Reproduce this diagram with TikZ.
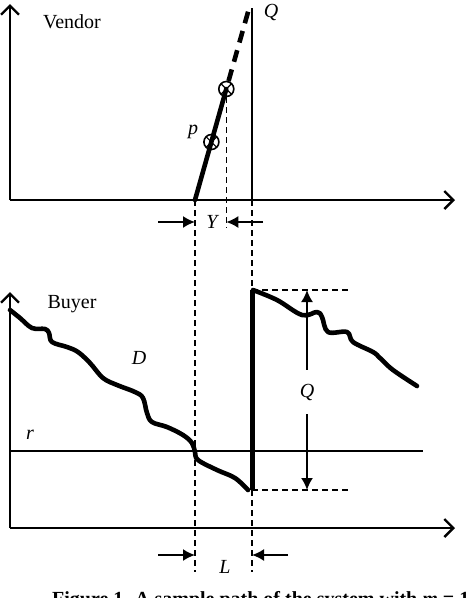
\documentclass[tikz,border=0pt]{standalone}
\usepackage{fontspec}
\setmainfont{Liberation Serif}
\usepackage{tikz}
\usetikzlibrary{arrows.meta}
\tikzstyle{every node}+=[inner sep=0pt]
\tikzstyle{axis} = [draw, line width=2.4pt, -{Straight Barb[length=9pt,width=18pt]}]
\tikzstyle{guide} = [draw, line width=1.6pt, dash pattern=on 6pt off 4pt]
\tikzstyle{dim} = [draw, line width=1.8pt, -{Latex[length=12pt,width=12pt]}]
\tikzstyle{sample} = [draw, line width=4.6pt, line join=round, line cap=round]
\tikzstyle{tag} = [font=\fontsize{20}{24}\selectfont\itshape]
\tikzstyle{title} = [font=\fontsize{20}{24}\selectfont]
\tikzstyle{xmark} = [circle, draw, line width=1.6pt, minimum size=15pt,
  path picture={\draw[line width=1.2pt] (path picture bounding box.north west) -- (path picture bounding box.south east)
    (path picture bounding box.north east) -- (path picture bounding box.south west);}]

\begin{document}
\begin{tikzpicture}[x=1pt, y=-1pt]
            \useasboundingbox (0,0) rectangle (474,598);
            % Vendor axes
            \coordinate (vo) at (10,200);
            \coordinate (vy) at (10,4);
            \coordinate (vx) at (455,200);
            \coordinate (vq0) at (252,200);
            \coordinate (vqt) at (252,8);
            \coordinate (v0) at (195,200);
            \coordinate (vtop) at (250,5);
            \path [axis] (vo) -- (vy);
            \path [axis] (vo) -- (vx);
            \draw [line width=1.8pt] (vq0) -- (vqt);
            % Place nodes
            \node [title] (vendor) at (72,22) {Vendor};
            \node [tag] (qv) at (271,12) {Q};
            \node [xmark] (c1) at (211.4,142) {};
            \node [xmark] (c2) at (226.3,89) {};
            \node [tag] (p) at (193,132) {p};
            \node [tag] (y) at (212,222) {Y};
            \node [title] (buyer) at (72,304) {Buyer};
            \node [tag] (d) at (139,358) {D};
            \node [tag] (r) at (30,435) {r};
            \node [tag, minimum height=44pt] (qb) at (307,392) {Q};
            \node [tag] (l) at (225,567) {L};
            % Vendor path
            \path [sample] (v0) -- (c2.center);
            \path [sample, line cap=butt, dash pattern=on 12pt off 8pt] (c2) -- (vtop);
            % Buyer axes
            \coordinate (bo) at (10,528);
            \coordinate (by) at (10,292);
            \coordinate (bx) at (455,528);
            \path [axis] (bo) -- (by);
            \path [axis] (bo) -- (bx);
            \draw [line width=1.5pt] (10,451) -- (423,451);
            % Inventory path
            \path [sample] plot [smooth, tension=0.6] coordinates {(10,310) (20,318) (32,328) (45,329) (49,333)
              (52,342) (67,347) (78,352) (90,363) (103,378) (117,385) (135,392) (143,398) (147,413)
              (152,422) (167,427) (183,435) (192,443) (195,452) (198,460) (217,470) (235,478) (248,490)};
            \coordinate (bl) at (252,490);
            \coordinate (bh) at (252,290);
            \path [sample, line width=5pt, line cap=butt] (bl) -- (bh);
            \path [sample] plot [smooth, tension=0.6] coordinates {(253,290) (277,300) (302,315) (317,312)
              (322,317) (328,332) (347,332) (353,342) (373,352) (380,358) (393,370) (417,386)};
            % Guides
            \coordinate (gh) at (350,290);
            \coordinate (gl) at (350,490);
            \coordinate (yl) at (195,572);
            \coordinate (yr) at (252,572);
            \path [guide] (bh) -- (gh);
            \path [guide] (bl) -- (gl);
            \path [guide] (v0) -- (yl);
            \path [guide] (vq0) -- (yr);
            \path [guide] (c2.south) -- (c2.south |- 0,228);
            % Draw arrows
            \coordinate (ya) at (158,222);
            \coordinate (yb) at (263,222);
            \coordinate (la) at (158,555);
            \coordinate (lb) at (288,555);
            \path [dim] (ya) -- (195,222);
            \path [dim] (yb) -- (c2.south |- yb);
            \path [dim] (la) -- (195,555);
            \path [dim] (lb) -- (252,555);
            \path [dim] (qb.north) -- (qb |- bh);
            \path [dim] (qb.south) -- (qb |- bl);
            % Caption
            \begin{scope}
              \clip (0,0) rectangle (474,598);
              \node [title, font=\fontsize{20}{24}\selectfont\bfseries, anchor=base west] (cap) at (52,605)
                {Figure 1. A sample path of the system with \textit{m} = 1};
            \end{scope}
          \end{tikzpicture}
\end{document}
